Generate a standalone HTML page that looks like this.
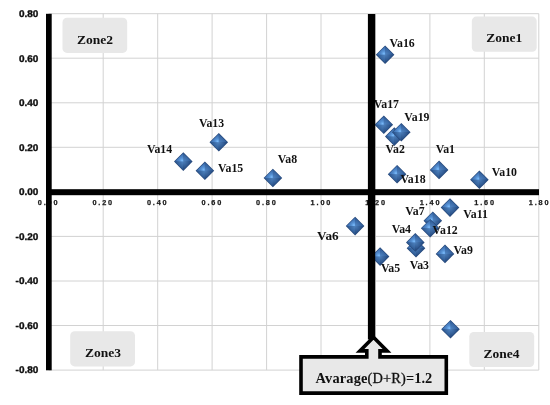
<!DOCTYPE html>
<html lang="en">
<head>
<meta charset="utf-8">
<title>Chart</title>
<style>
html,body{margin:0;padding:0;background:#fff;}
body{width:550px;height:405px;overflow:hidden;}
svg{display:block;}
.grid line{stroke:#d2d2d2;stroke-width:1;}
.ylab text{font-family:"Liberation Sans",sans-serif;font-weight:bold;font-size:10px;fill:#111;text-anchor:end;stroke:#111;stroke-width:0.4px;text-rendering:geometricPrecision;}
.xlab text{font-family:"Liberation Sans",sans-serif;font-weight:bold;font-size:7.3px;fill:#1a1a1a;text-anchor:middle;letter-spacing:1.85px;stroke:#1a1a1a;stroke-width:0.25px;}
.zone rect{fill:#e8e8e8;}
.zone text{font-family:"Liberation Serif",serif;font-weight:bold;font-size:13.5px;fill:#111;text-anchor:middle;}
.dl text{font-family:"Liberation Serif",serif;font-weight:bold;font-size:12px;fill:#111;}
.call text{font-family:"Liberation Serif",serif;font-size:14.4px;fill:#111;}
</style>
</head>
<body>
<svg width="550" height="405" viewBox="0 0 550 405">
<defs>
<radialGradient id="hl" gradientUnits="userSpaceOnUse" cx="-1.2" cy="-1" r="6.5">
<stop offset="0" stop-color="#7fc0ff" stop-opacity="0.95"/>
<stop offset="0.45" stop-color="#5a98dc" stop-opacity="0.5"/>
<stop offset="1" stop-color="#4a80c0" stop-opacity="0"/>
</radialGradient>
<radialGradient id="h2" gradientUnits="userSpaceOnUse" cx="0" cy="0" r="7">
<stop offset="0" stop-color="#6aa6e6" stop-opacity="0.55"/>
<stop offset="1" stop-color="#6aa6e6" stop-opacity="0"/>
</radialGradient>
<g id="d">
<polygon points="0,-9.3 9.3,0 0,9.3 -9.3,0" fill="#28497a"/>
<polygon points="0,-8.4 0,0 -8.4,0" fill="#3f72b4"/>
<polygon points="0,-8.4 8.4,0 0,0" fill="#33609c"/>
<polygon points="-8.4,0 0,0 0,8.4" fill="#2f5b94"/>
<polygon points="0,0 8.4,0 0,8.4" fill="#284f86"/>
<polygon points="0,-8.4 8.4,0 0,8.4 -8.4,0" fill="url(#h2)"/>
<polygon points="0,-8.4 0,0 -8.4,0" fill="url(#hl)"/>
</g>
</defs>
<rect x="0" y="0" width="550" height="405" fill="#ffffff"/>

<g class="grid">
<line x1="48.8" y1="13.7" x2="538.8" y2="13.7"/>
<line x1="48.8" y1="58.2" x2="538.8" y2="58.2"/>
<line x1="48.8" y1="102.8" x2="538.8" y2="102.8"/>
<line x1="48.8" y1="147.3" x2="538.8" y2="147.3"/>
<line x1="48.8" y1="191.9" x2="538.8" y2="191.9"/>
<line x1="48.8" y1="236.4" x2="538.8" y2="236.4"/>
<line x1="48.8" y1="281.0" x2="538.8" y2="281.0"/>
<line x1="48.8" y1="325.5" x2="538.8" y2="325.5"/>
<line x1="48.8" y1="370.1" x2="538.8" y2="370.1"/>
<line x1="48.8" y1="13.7" x2="48.8" y2="370.1"/>
<line x1="103.2" y1="13.7" x2="103.2" y2="370.1"/>
<line x1="157.7" y1="13.7" x2="157.7" y2="370.1"/>
<line x1="212.1" y1="13.7" x2="212.1" y2="370.1"/>
<line x1="266.6" y1="13.7" x2="266.6" y2="370.1"/>
<line x1="321.0" y1="13.7" x2="321.0" y2="370.1"/>
<line x1="375.4" y1="13.7" x2="375.4" y2="370.1"/>
<line x1="429.9" y1="13.7" x2="429.9" y2="370.1"/>
<line x1="484.3" y1="13.7" x2="484.3" y2="370.1"/>
<line x1="538.8" y1="13.7" x2="538.8" y2="370.1"/>
</g>
<g class="zone">
<rect x="62.5" y="17.8" width="64.7" height="35.1" rx="4.5" ry="4.5"/>
<text x="95.0" y="43.9">Zone2</text>
<rect x="471.8" y="16.6" width="64.9" height="35.2" rx="4.5" ry="4.5"/>
<text x="504.2" y="42.3">Zone1</text>
<rect x="70.2" y="331.2" width="64.8" height="35.2" rx="4.5" ry="4.5"/>
<text x="102.9" y="357.0">Zone3</text>
<rect x="469.3" y="332.0" width="64.9" height="35.0" rx="4.5" ry="4.5"/>
<text x="501.6" y="358.0">Zone4</text>
</g>
<g class="xlab">
<text x="48.6" y="204.7">0.00</text>
<text x="103.2" y="204.7">0.20</text>
<text x="157.7" y="204.7">0.40</text>
<text x="212.3" y="204.7">0.60</text>
<text x="266.8" y="204.7">0.80</text>
<text x="321.4" y="204.7">1.00</text>
<text x="376.0" y="204.7">1.20</text>
<text x="430.5" y="204.7">1.40</text>
<text x="485.1" y="204.7">1.60</text>
<text x="539.6" y="204.7">1.80</text>
</g>
<rect x="46" y="13.8" width="5.7" height="356.5" fill="#000"/>
<rect x="46" y="189.2" width="493" height="6" fill="#000"/>
<g class="ylab">
<text transform="translate(38.4,17.0) scale(1,0.96)">0.80</text>
<text transform="translate(38.4,61.5) scale(1,0.96)">0.60</text>
<text transform="translate(38.4,106.1) scale(1,0.96)">0.40</text>
<text transform="translate(38.4,150.6) scale(1,0.96)">0.20</text>
<text transform="translate(38.4,195.2) scale(1,0.96)">0.00</text>
<text transform="translate(38.4,239.8) scale(1,0.96)">-0.20</text>
<text transform="translate(38.4,284.3) scale(1,0.96)">-0.40</text>
<text transform="translate(38.4,328.8) scale(1,0.96)">-0.60</text>
<text transform="translate(38.4,373.4) scale(1,0.96)">-0.80</text>
</g>
<g>
<use href="#d" x="218.8" y="142.3"/>
<use href="#d" x="183.3" y="161.6"/>
<use href="#d" x="204.9" y="170.8"/>
<use href="#d" x="272.9" y="178.0"/>
<use href="#d" x="385.1" y="54.7"/>
<use href="#d" x="383.8" y="124.8"/>
<use href="#d" x="394.3" y="136.6"/>
<use href="#d" x="401.3" y="132.2"/>
<use href="#d" x="397.1" y="174.2"/>
<use href="#d" x="439.1" y="169.9"/>
<use href="#d" x="479.4" y="179.8"/>
<use href="#d" x="355.1" y="226.1"/>
<use href="#d" x="380.1" y="256.6"/>
<use href="#d" x="450.0" y="207.6"/>
<use href="#d" x="432.8" y="220.7"/>
<use href="#d" x="430.2" y="228.2"/>
<use href="#d" x="416.0" y="248.2"/>
<use href="#d" x="415.3" y="242.4"/>
<use href="#d" x="445.0" y="253.9"/>
<use href="#d" x="450.5" y="329.2"/>
</g>
<g class="dl">
<text transform="translate(199.0,126.8) scale(0.985,1)">Va13</text>
<text transform="translate(147.0,153.1) scale(0.985,1)">Va14</text>
<text transform="translate(218.1,172.4) scale(0.985,1)">Va15</text>
<text transform="translate(277.8,163.0) scale(0.985,1)">Va8</text>
<text transform="translate(389.6,46.5) scale(0.985,1)">Va16</text>
<text transform="translate(373.8,108.2) scale(0.985,1)">Va17</text>
<text transform="translate(404.3,121.3) scale(0.985,1)">Va19</text>
<text transform="translate(385.6,153.2) scale(0.985,1)">Va2</text>
<text transform="translate(400.4,183.3) scale(0.985,1)">Va18</text>
<text transform="translate(435.7,153.1) scale(0.985,1)">Va1</text>
<text transform="translate(491.8,175.8) scale(0.985,1)">Va10</text>
<text transform="translate(317.1,239.9) scale(1.1,1.1)">Va6</text>
<text transform="translate(380.9,271.5) scale(0.985,1)">Va5</text>
<text transform="translate(405.3,214.6) scale(0.985,1)">Va7</text>
<text transform="translate(463.3,217.8) scale(0.985,1)">Va11</text>
<text transform="translate(432.6,234.2) scale(0.985,1)">Va12</text>
<text transform="translate(391.7,232.5) scale(0.985,1)">Va4</text>
<text transform="translate(409.7,268.6) scale(0.985,1)">Va3</text>
<text transform="translate(453.6,253.8) scale(0.985,1)">Va9</text>
</g>
<rect x="367.9" y="14" width="7.3" height="325.5" fill="#000"/>
<g class="call">
<path d="M301,356.9 H366.8 V350.9 H359.9 L373.5,337.3 L387.1,350.9 H380 V356.9 H446.3 V393.1 H301 Z" fill="#e8e8e8" stroke="#000" stroke-width="3.6" stroke-linejoin="miter"/>
<text x="315.6" y="382.6"><tspan font-weight="bold" letter-spacing="0.15">Avarage</tspan><tspan stroke="#111" stroke-width="0.3" letter-spacing="0.15">(D+R)</tspan><tspan font-weight="bold">=1.2</tspan></text>
</g>
</svg>
</body>
</html>
